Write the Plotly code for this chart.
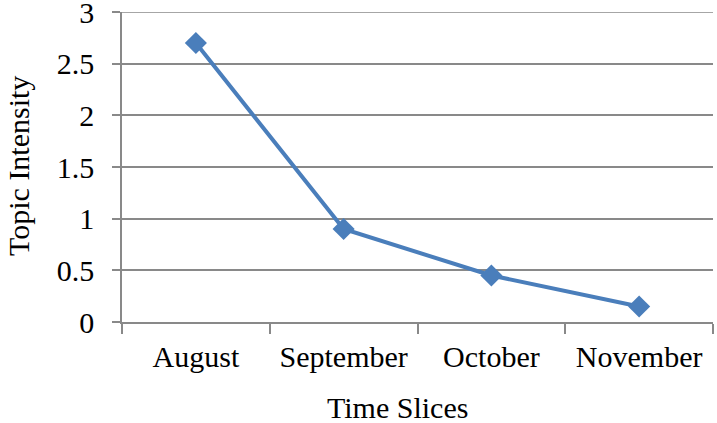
import plotly.graph_objects as go

# data
months = ["August", "September", "October", "November"]
intensity = [2.7, 0.9, 0.45, 0.15]

font_name = "Liberation Serif"
grey = "#898989"

fig = go.Figure()
fig.add_trace(go.Scatter(
    x=months, y=intensity, mode="lines+markers",
    line=dict(color="#4a7ebb", width=4),
    marker=dict(symbol="diamond", size=17, color="#4a7ebb"),
    showlegend=False))

fig.update_layout(
    width=717, height=423,
    margin=dict(l=122, r=4, t=12, b=101),
    paper_bgcolor="white", plot_bgcolor="white",
    font=dict(family=font_name, size=30, color="black"))

fig.update_xaxes(
    type="category", range=[-0.5, 3.5], tickson="boundaries",
    showgrid=False, showline=True, linecolor=grey, linewidth=1.5,
    ticks="outside", ticklen=10, tickwidth=1.5, tickcolor=grey,
    ticklabelstandoff=7, ticklabeloverflow="allow", automargin=False)

fig.update_yaxes(
    range=[0, 3], dtick=0.5, showgrid=True, gridcolor=grey, gridwidth=1.5,
    showline=True, linecolor=grey, linewidth=1.5, zeroline=False,
    ticks="outside", ticklen=8, tickwidth=1.5, tickcolor=grey,
    ticklabelstandoff=12, ticklabeloverflow="allow", automargin=False)

# plotly drops the gridline sitting on the top edge, so draw it again
fig.add_hline(y=3, line=dict(color=grey, width=1.5), layer="below")

# axis titles placed by hand, as in the source chart
fig.add_annotation(text="Time Slices", xref="paper", yref="paper",
                   x=(397 - 122) / 591, y=-(407 - 322) / 310,
                   showarrow=False, xanchor="center", yanchor="middle")
fig.add_annotation(text="Topic Intensity", xref="paper", yref="paper",
                   x=-(122 - 18) / 591, y=(322 - 166) / 310, textangle=-90,
                   showarrow=False, xanchor="center", yanchor="middle")

# page has a default 8px body margin; drop it so the chart fills the window
fig.write_html("out.html", config={"displayModeBar": False},
               post_script="document.body.style.margin='0';")
